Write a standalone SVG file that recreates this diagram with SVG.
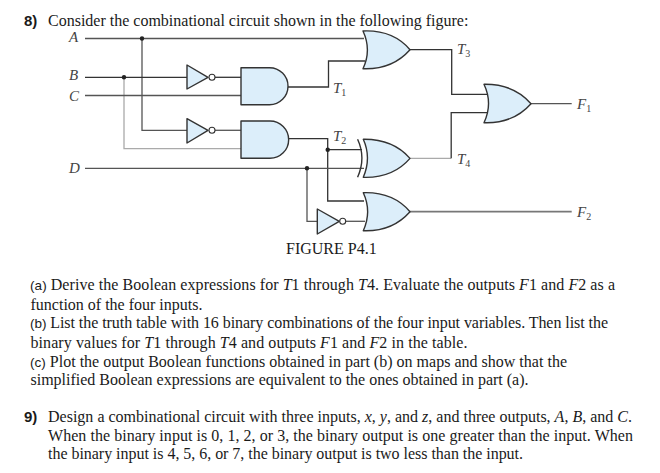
<svg xmlns="http://www.w3.org/2000/svg" width="660" height="473" viewBox="0 0 660 473">
<style>
.q{font-family:"Liberation Serif","Times New Roman",serif;font-size:16px;fill:#1a1a1a}
.n{font-family:"Liberation Sans",Arial,sans-serif;font-size:15px;font-weight:bold;fill:#1a1a1a}
.p{font-family:"Liberation Sans",Arial,sans-serif;font-size:13.5px}
.i{font-style:italic}
.l{font-family:"Liberation Serif","Times New Roman",serif;font-style:italic;font-size:15px;fill:#444}
.s{font-size:10px;font-style:normal}
.w{fill:none;stroke:#555;stroke-width:1.3}
.lt{stroke:#aaa}
.dk{stroke:#333}
.th{stroke:#777;stroke-width:1.8}
.g{fill:#dceefa;stroke:#333;stroke-width:1.4;stroke-linejoin:round}
.b{fill:#fff;stroke:#333;stroke-width:1.1}
.d{fill:#222}
</style>
<rect width="660" height="473" fill="#fff"/>
<g id="connectors">
<path class="w" d="M85 38.5H364"/>
<path class="w" d="M142 38.5V130.3H187"/>
<path class="w dk" d="M85 77.3H187"/>
<path class="w lt" d="M124 77.3V148.7H241"/>
<path class="w" d="M85 95.5H241"/>
<path class="w dk" d="M215 77.3H241"/>
<path class="w" d="M215 130.3H241"/>
<path class="w dk" d="M288 87H328.5V61H365"/>
<path class="w dk" d="M288.7 138.7H327.7V201H364"/>
<path class="w dk" d="M327.7 149.7H362"/>
<path class="w" d="M85 168.3H364"/>
<path class="w" d="M307 168.3V221.3H317.3"/>
<path class="w" d="M346 221.3H365"/>
<path class="w dk" d="M410 49.7H451.7V94.3H487"/>
<path class="w lt" d="M410 158.3H451.2"/>
<path class="w dk" d="M451.2 158.3V112.7H487"/>
<path class="w" d="M531 103.7H571.7"/>
<path class="w th" d="M410 211.7H571.7"/>
<circle class="d" cx="142" cy="38.5" r="2.2"/>
<circle class="d" cx="124" cy="77.3" r="2.2"/>
<circle class="d" cx="327.7" cy="149.7" r="2.2"/>
<circle class="d" cx="307" cy="168.3" r="2.2"/>
</g>
<g id="inv1"><path class="g" d="M187 65V89L208 77.3Z"/><circle class="b" cx="212" cy="77.3" r="3"/></g>
<g id="inv2"><path class="g" d="M187 118.7V143L208 130.3Z"/><circle class="b" cx="212" cy="130.3" r="3"/></g>
<g id="inv3"><path class="g" d="M317.3 209V234L339.3 221.3Z"/><circle class="b" cx="342.7" cy="221.3" r="3"/></g>
<g id="and1"><path class="g" d="M241 67.7H269.5A18.5 18.5 0 0 1 269.5 104.7H241Z"/></g>
<g id="and2"><path class="g" d="M241 121H270A18.6 18.6 0 0 1 270 158.3H241Z"/></g>
<g id="or-t3"><path class="g" d="M363 31C385 30 400 38 410 49.7C400 61 385 69.5 363 68.7C369 56 369 44 363 31Z"/></g>
<g id="or-f1"><path class="g" d="M484 84.3C506 84 521 92 531 103.7C521 115 506 123.5 484 122.7C490 110 490 97 484 84.3Z"/></g>
<g id="xor-t4"><path class="g" d="M363.3 139.3C385 139 400 147 410 158.4C400 170 385 178 363.3 177.3C369 164 369 152 363.3 139.3Z"/><path fill="none" stroke="#333" stroke-width="1.4" d="M357.6 139.3C363.5 152 363.5 164 357.6 177.3"/></g>
<g id="or-f2"><path class="g" d="M363.3 192.7C385 192 400 200 410 211.7C400 223 385 231.5 363.3 230.7C369 218 369 205 363.3 192.7Z"/></g>
<g id="labels">
<text class="l" x="69" y="42">A</text>
<text class="l" x="69" y="80">B</text>
<text class="l" x="69" y="101">C</text>
<text class="l" x="69" y="173">D</text>
<text class="l" x="333" y="93">T<tspan class="s" dy="3">1</tspan></text>
<text class="l" x="333" y="141">T<tspan class="s" dy="3">2</tspan></text>
<text class="l" x="457" y="54">T<tspan class="s" dy="3">3</tspan></text>
<text class="l" x="457" y="164">T<tspan class="s" dy="3">4</tspan></text>
<text class="l" x="577" y="109">F<tspan class="s" dy="3">1</tspan></text>
<text class="l" x="577" y="217">F<tspan class="s" dy="3">2</tspan></text>
</g>
<text class="n" x="24" y="26">8)</text>
<text class="q" x="48" y="26">Consider the combinational circuit shown in the following figure:</text>
<text class="q" x="286" y="254">FIGURE P4.1</text>
<text class="q" x="30" y="290" textLength="585"><tspan class="p">(a)</tspan> Derive the Boolean expressions for <tspan class="i">T</tspan>1 through <tspan class="i">T</tspan>4. Evaluate the outputs <tspan class="i">F</tspan>1 and <tspan class="i">F</tspan>2 as a</text>
<text class="q" x="30.5" y="309.5">function of the four inputs.</text>
<text class="q" x="30" y="328" textLength="578"><tspan class="p">(b)</tspan> List the truth table with 16 binary combinations of the four input variables. Then list the</text>
<text class="q" x="30.5" y="347.5" textLength="437">binary values for <tspan class="i">T</tspan>1 through <tspan class="i">T</tspan>4 and outputs <tspan class="i">F</tspan>1 and <tspan class="i">F</tspan>2 in the  table.</text>
<text class="q" x="30" y="366.5" textLength="537"><tspan class="p">(c)</tspan> Plot the output Boolean functions obtained in part (b) on maps and show that the</text>
<text class="q" x="30.5" y="385" textLength="498">simplified Boolean expressions are equivalent to the ones obtained in part (a).</text>
<text class="n" x="24" y="421.5">9)</text>
<text class="q" x="48" y="421.5" textLength="584">Design a combinational circuit with three inputs, <tspan class="i">x</tspan>, <tspan class="i">y</tspan>, and <tspan class="i">z</tspan>, and three outputs, <tspan class="i">A</tspan>, <tspan class="i">B</tspan>, and <tspan class="i">C</tspan>.</text>
<text class="q" x="48" y="440.5" textLength="585">When the binary input is 0, 1, 2, or 3, the binary output is one greater than the input. When</text>
<text class="q" x="48" y="459" textLength="475">the binary input is 4, 5, 6, or 7, the binary output is two less than the input.</text>
</svg>
